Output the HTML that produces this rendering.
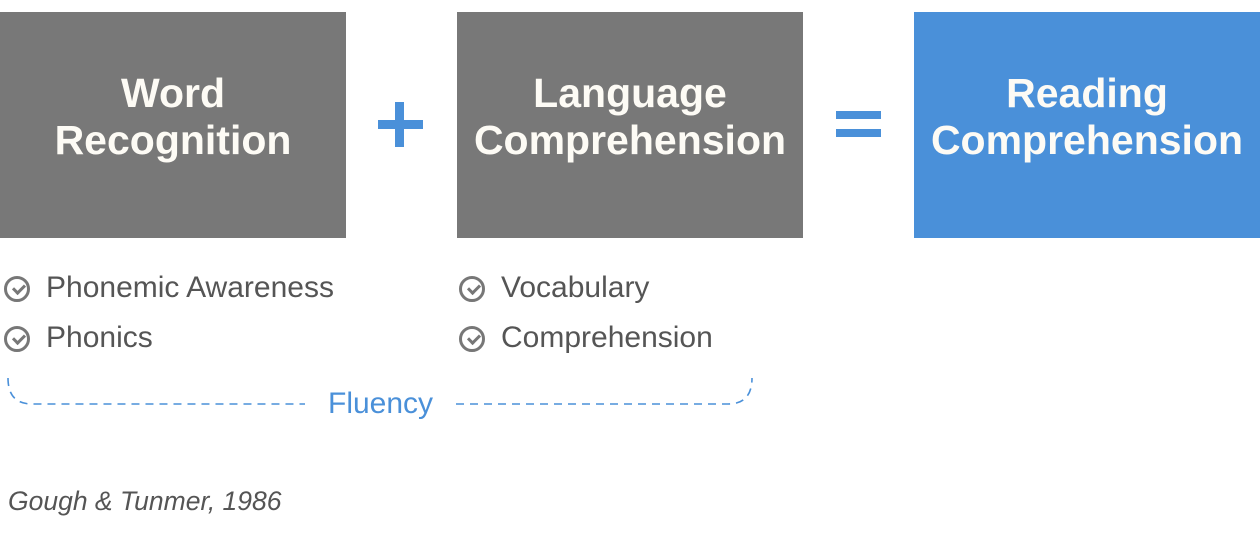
<!DOCTYPE html>
<html><head><meta charset="utf-8"><style>
body{margin:0;width:1260px;height:533px;background:#fff;position:relative;overflow:hidden;font-family:"Liberation Sans",sans-serif}
.box{position:absolute;top:12px;width:346px;height:226px;box-sizing:border-box;padding-bottom:16px;background:#787878;color:#fdfbf5;font-weight:bold;font-size:41px;line-height:47px;display:flex;align-items:center;justify-content:center;text-align:center}
.t{position:absolute;font-size:30px;color:#555;white-space:nowrap;line-height:1}
.ic{position:absolute;width:26px;height:26px;border:3px solid #777;border-radius:50%;box-sizing:border-box}
.ic::after{content:"";position:absolute;left:6px;top:5px;width:9px;height:5px;border-left:3px solid #777;border-bottom:3px solid #777;transform:rotate(-45deg)}
</style></head><body>
<div class="box" style="left:0">Word<br>Recognition</div>
<div class="box" style="left:457px">Language<br>Comprehension</div>
<div class="box" style="left:914px;background:#4a90d9">Reading<br>Comprehension</div>
<div style="position:absolute;left:378px;top:120px;width:45px;height:9px;background:#4a90d9"></div>
<div style="position:absolute;left:395px;top:102px;width:9px;height:45px;background:#4a90d9"></div>
<div style="position:absolute;left:836px;top:111px;width:45px;height:8px;background:#4a90d9"></div>
<div style="position:absolute;left:836px;top:129px;width:45px;height:8px;background:#4a90d9"></div>

<div class="ic" style="left:4px;top:276px"></div><div class="t" style="left:46px;top:273px">Phonemic Awareness</div>
<div class="ic" style="left:4px;top:326px"></div><div class="t" style="left:46px;top:323px">Phonics</div>
<div class="ic" style="left:459px;top:276px"></div><div class="t" style="left:501px;top:273px">Vocabulary</div>
<div class="ic" style="left:459px;top:326px"></div><div class="t" style="left:501px;top:323px">Comprehension</div>

<svg style="position:absolute;left:0;top:0" width="1260" height="533">
<path d="M8 378 Q8 404 32 404 L305 404" fill="none" stroke="#4a90d9" stroke-width="1.6" stroke-dasharray="8 6"/>
<path d="M456 404 L728 404 Q752 404 752 378" fill="none" stroke="#4a90d9" stroke-width="1.6" stroke-dasharray="8 6"/>
</svg>
<div class="t" style="left:328px;top:389px;color:#4a90d9;font-size:30px">Fluency</div>
<div class="t" style="left:8px;top:488px;font-size:26.5px;font-style:italic;color:#555">Gough &amp; Tunmer, 1986</div>
</body></html>
